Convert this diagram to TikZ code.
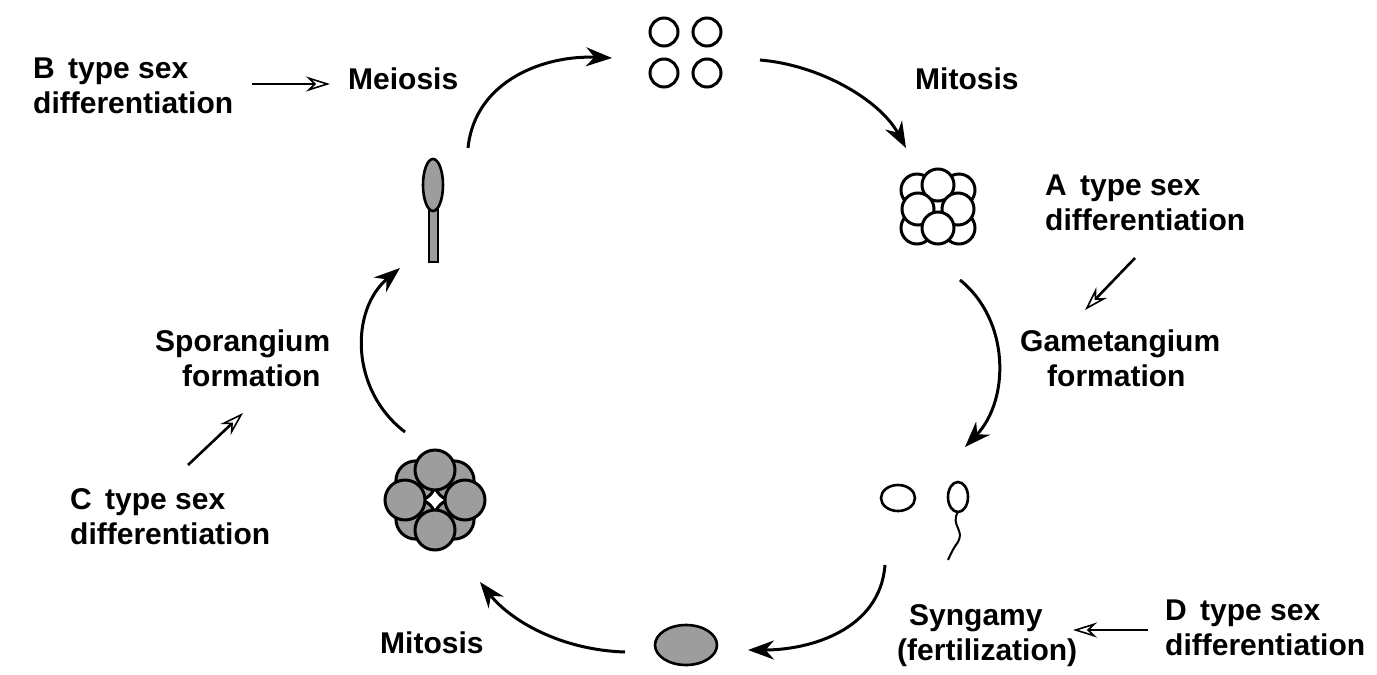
\documentclass[tikz,border=0pt]{standalone}
\usepackage{fontspec}
\setmainfont{Liberation Sans}
\usetikzlibrary{arrows.meta}
\begin{document}
\begin{tikzpicture}[x=1pt,y=-1pt,
  lbl/.style={font=\fontsize{30}{35}\selectfont\bfseries,align=left,inner sep=0},
  cyc/.style={line width=3pt,-{Stealth[length=26pt,width=19pt]}},
  open/.style={line width=2.6pt,-{Stealth[open,length=24pt,width=15pt,line width=1.6pt]}},
  cell/.style={draw,line width=3pt,fill=white},
  gcell/.style={draw,line width=3pt,fill=gray!90!black!70}]
\useasboundingbox (0,0) rectangle (1377,675);
% four cells
\foreach \x/\y in {664/32,707/32,664/73,707/73} \draw[line width=3pt] (\x,\y) circle (14);
% white cluster
\foreach \x/\y in {917/190,959/190,917/228,959/228} \draw[cell] (\x,\y) circle (16);
\foreach \x/\y in {938/185,918/209,958/209,938/228} \draw[cell] (\x,\y) circle (16);
% grey cluster
\foreach \a in {45,135,225,315} \draw[gcell] (435,500)++(\a:27) circle (20);
\foreach \a in {90,180,270,0} \draw[gcell] (435,500)++(\a:30) circle (20);
% sporangium
\draw[gcell,line width=2.6pt] (429,210) rectangle (438,262);
\draw[gcell,line width=2.6pt] (433,185) ellipse (10 and 26);
% gametes
\draw[line width=2.6pt] (898,498) ellipse (17 and 13);
\draw[line width=2.6pt] (958,497) ellipse (10 and 15);
\draw[line width=2pt] (958,512) .. controls (950,525) and (965,530) .. (958,542) .. controls (952,550) and (950,556) .. (948,560);
% zygote
\draw[gcell,line width=2.6pt] (686,645) ellipse (31 and 20);
% cycle arrows
\coordinate (c1s) at (468,148); \coordinate (c1e) at (612,58);
\coordinate (c2s) at (760,60); \coordinate (c2e) at (906,148);
\coordinate (c3s) at (960,280); \coordinate (c3e) at (965,447);
\coordinate (c4s) at (885,565); \coordinate (c4e) at (748,650);
\coordinate (c5s) at (625,652); \coordinate (c5e) at (480,582);
\coordinate (c6s) at (405,432); \coordinate (c6e) at (400,268);
\draw[cyc] (c1s) .. controls (475,80) and (545,55) .. (c1e);
\draw[cyc] (c2s) .. controls (820,65) and (880,100) .. (c2e);
\draw[cyc] (c3s) .. controls (1010,320) and (1010,400) .. (c3e);
\draw[cyc] (c4s) .. controls (880,630) and (810,650) .. (c4e);
\draw[cyc] (c5s) .. controls (560,650) and (510,620) .. (c5e);
\draw[cyc] (c6s) .. controls (350,390) and (350,310) .. (c6e);
% labels
\node[lbl,anchor=west] (B) at (33,86) {B\, type sex\\differentiation};
\node[lbl,anchor=west] (mei) at (348,79) {Meiosis};
\node[lbl,anchor=west] (mit1) at (915,79) {Mitosis};
\node[lbl,anchor=west] (A) at (1045,203) {A\, type sex\\differentiation};
\node[lbl,anchor=west] (gam) at (1020,358) {Gametangium\\\hspace*{0.9em}formation};
\node[lbl,anchor=west] (spo) at (155,358) {Sporangium\\\hspace*{0.9em}formation};
\node[lbl,anchor=west] (C) at (70,517) {C\, type sex\\differentiation};
\node[lbl,anchor=west] (syn) at (897,636) {\hspace*{0.4em}Syngamy\\(fertilization)};
\node[lbl,anchor=west] (D) at (1165,628) {D\, type sex\\differentiation};
\node[lbl,anchor=west] (mit2) at (380,643) {Mitosis};
% open arrows
\coordinate (b1) at (252,84); \coordinate (b2) at (330,84);
\coordinate (a1) at (1135,258); \coordinate (a2) at (1085,310);
\coordinate (k1) at (188,465); \coordinate (k2) at (243,413);
\coordinate (d1) at (1148,630); \coordinate (d2) at (1073,630);
\draw[open] (b1) -- (b2);
\draw[open] (a1) -- (a2);
\draw[open] (k1) -- (k2);
\draw[open] (d1) -- (d2);
\end{tikzpicture}
\end{document}
